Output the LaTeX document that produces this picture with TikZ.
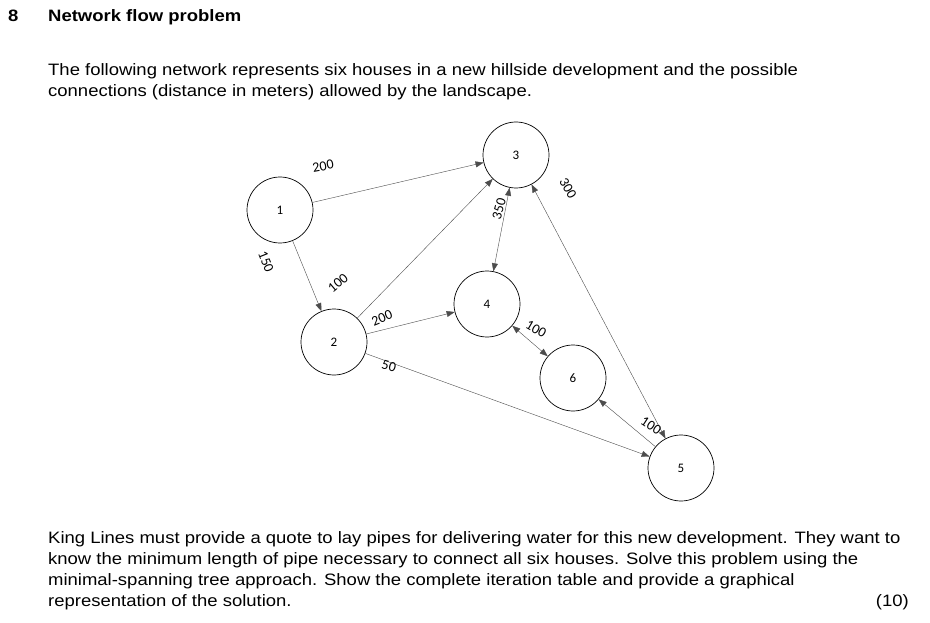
\documentclass[tikz,border=0pt]{standalone}
\usepackage{fontspec}
\setmainfont{Liberation Sans}
\newfontfamily\bodyfont[FakeStretch=1.12]{Liberation Sans}
\newfontfamily\carlitofont{Carlito}
\usetikzlibrary{arrows.meta}
\begin{document}
\begin{tikzpicture}[x=1pt,y=-1pt,
  house/.style={circle,draw,line width=0.7pt,minimum size=66pt,inner sep=0pt,font=\carlitofont\fontsize{13}{15}\selectfont},
  pipe/.style={line width=0.4pt,draw=black!70,-{Triangle[length=8pt,width=6pt]}},
  both/.style={line width=0.4pt,draw=black!70,{Triangle[length=8pt,width=6pt]}-{Triangle[length=8pt,width=6pt]}},
  lab/.style={font=\carlitofont\fontsize{14}{16}\selectfont,inner sep=0pt},
  txt/.style={anchor=base west,inner sep=0pt,font=\bodyfont\fontsize{16.5}{19}\selectfont}]
\useasboundingbox (0,0) rectangle (930,623);
\node[txt,font=\bodyfont\bfseries\fontsize{16.5}{19}\selectfont] (h8) at (8,22) {8};
\node[txt,font=\bodyfont\bfseries\fontsize{16.5}{19}\selectfont] (ht) at (48,22) {Network flow problem};
\node[txt] (t1) at (48,76) {The following network represents six houses in a new hillside development and the possible};
\node[txt] (t2) at (48,97) {connections (distance in meters) allowed by the landscape.};
\node[txt] (b1) at (48,543) {King Lines must provide a quote to lay pipes for delivering water for this new development. They want to};
\node[txt] (b2) at (48,564) {know the minimum length of pipe necessary to connect all six houses. Solve this problem using the};
\node[txt] (b3) at (48,585) {minimal-spanning tree approach. Show the complete iteration table and provide a graphical};
\node[txt] (b4) at (48,606) {representation of the solution.};
\node[txt,anchor=base east] (pts) at (909,606) {(10)};

\node[house] (n1) at (280,210) {1};
\node[house] (n3) at (516,155) {3};
\node[house] (n2) at (334,342) {2};
\node[house] (n4) at (487,304) {4};
\node[house] (n6) at (573,378) {6};
\node[house] (n5) at (681,468) {5};

\draw[pipe] (n1) -- (n3);
\draw[pipe] (n1) -- (n2);
\draw[pipe] (n2) -- (n3);
\draw[pipe] (n2) -- (n4);
\draw[pipe] (n2) -- (n5);
\draw[both] (n3) -- (n4);
\draw[both] (n4) -- (n6);
\draw[pipe] (n5) -- (n6);
\draw[both] (n3) -- (n5);

\node[lab,rotate=10] (l13) at (323,166) {200};
\node[lab,rotate=-68] (l12) at (266,262) {150};
\node[lab,rotate=40] (l23) at (338,283) {100};
\node[lab,rotate=75] (l34) at (499,209) {350};
\node[lab,rotate=-60] (l35) at (568,188) {300};
\node[lab,rotate=22] (l24) at (382,318) {200};
\node[lab,rotate=-30] (l46) at (536,329) {100};
\node[lab,rotate=-15] (l25) at (389,366) {50};
\node[lab,rotate=-33] (l56) at (651,426) {100};
\end{tikzpicture}
\end{document}
